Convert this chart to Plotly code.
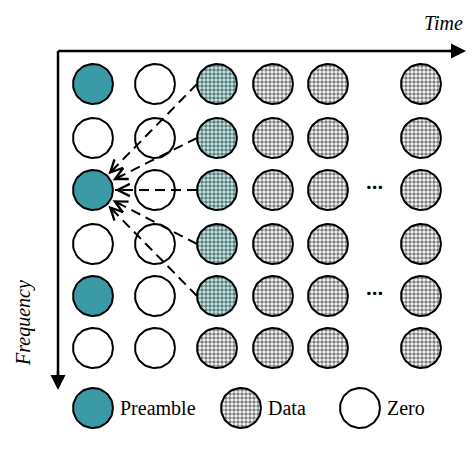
import numpy as np
import plotly.graph_objects as go

# grid layout of the resource diagram (pixel-like coordinates)
col_x = [85, 147, 209, 265, 320, 413]
row_y = [76, 130, 182, 236, 288, 340]
# P = preamble, Z = zero, C = data next to preamble (cyan), D = data
grid = [
    ['P', 'Z', 'C', 'D', 'D', 'D'],
    ['Z', 'Z', 'C', 'D', 'D', 'D'],
    ['P', 'Z', 'C', 'D', 'D', 'D'],
    ['Z', 'Z', 'C', 'D', 'D', 'D'],
    ['P', 'Z', 'C', 'D', 'D', 'D'],
    ['Z', 'Z', 'D', 'D', 'D', 'D'],
]
dot_rows = [2, 4]
arrow_rows = [0, 1, 2, 3, 4]
target_row = 2
legend_items = [('P', 'Preamble', 85), ('D', 'Data', 233), ('Z', 'Zero', 352)]
R = 20

fig = go.Figure()


def circle(cx, cy, kind):
    t = np.linspace(0, 2 * np.pi, 60)
    xs, ys = cx + R * np.cos(t), cy + R * np.sin(t)
    kw = dict(x=xs, y=ys, mode='lines', fill='toself', showlegend=False,
              line=dict(color='black', width=2), hoverinfo='skip')
    if kind == 'P':
        kw['fillcolor'] = '#3a9aa5'
    elif kind == 'Z':
        kw['fillcolor'] = 'white'
    else:
        bg = '#c4f2ef' if kind == 'C' else 'white'
        kw['fillcolor'] = bg
        kw['fillpattern'] = dict(shape='.', size=4, solidity=0.6,
                                 fgcolor='black', bgcolor=bg)
    fig.add_trace(go.Scatter(**kw))


for r, row in enumerate(grid):
    for c, kind in enumerate(row):
        circle(col_x[c], row_y[r], kind)

for r in dot_rows:
    fig.add_annotation(x=366, y=row_y[r] - 4, text='<b>···</b>', showarrow=False,
                       font=dict(size=20, color='black'))

# dashed arrows from the cyan data cells to the preamble
tx, ty = col_x[0], row_y[target_row]
for r in arrow_rows:
    sx, sy = col_x[2] - R, row_y[r]
    d = np.array([sx - tx, sy - ty], float)
    d /= np.linalg.norm(d)
    ex, ey = tx + (R + 2) * d[0], ty + (R + 2) * d[1]
    fig.add_trace(go.Scatter(x=[sx, ex], y=[sy, ey], mode='lines', showlegend=False,
                             line=dict(color='black', width=2, dash='10px,6px'), hoverinfo='skip'))
    fig.add_annotation(x=ex, y=ey, ax=ex + 12 * d[0], ay=ey + 12 * d[1],
                       xref='x', yref='y', axref='x', ayref='y', text='',
                       showarrow=True, arrowhead=5, arrowsize=1.6, arrowwidth=1.5,
                       arrowcolor='black')

# axes lines with arrowheads
fig.add_trace(go.Scatter(x=[50, 450], y=[43, 43], mode='lines', showlegend=False,
                         line=dict(color='black', width=2.5), hoverinfo='skip'))
fig.add_trace(go.Scatter(x=[50, 50], y=[43, 372], mode='lines', showlegend=False,
                         line=dict(color='black', width=2.5), hoverinfo='skip'))
fig.add_annotation(x=458, y=43, ax=440, ay=43, xref='x', yref='y', axref='x', ayref='y',
                   text='', showarrow=True, arrowhead=2, arrowsize=1.2, arrowwidth=2.5,
                   arrowcolor='black')
fig.add_annotation(x=50, y=382, ax=50, ay=362, xref='x', yref='y', axref='x', ayref='y',
                   text='', showarrow=True, arrowhead=2, arrowsize=1.2, arrowwidth=2.5,
                   arrowcolor='black')

font = dict(family='Liberation Serif', size=20, color='black')
fig.add_annotation(x=435, y=15, text='<i>Time</i>', showarrow=False, font=font)
fig.add_annotation(x=15, y=315, text='<i>Frequency</i>', showarrow=False, font=font, textangle=-90)

for kind, label, lx in legend_items:
    circle(lx, 400, kind)
    fig.add_annotation(x=lx + 25, y=400, text=label, showarrow=False, xanchor='left', font=font)

fig.update_xaxes(range=[0, 474], visible=False)
fig.update_yaxes(range=[454, 0], visible=False)
fig.update_layout(width=474, height=454, margin=dict(l=0, r=0, t=0, b=0),
                  plot_bgcolor='white', paper_bgcolor='white')
fig.write_html('out.html')
